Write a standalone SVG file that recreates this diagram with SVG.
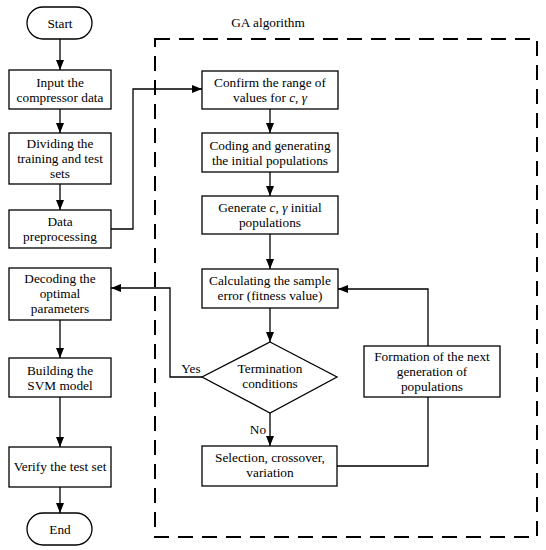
<svg xmlns="http://www.w3.org/2000/svg" width="546" height="550" viewBox="0 0 546 550" font-family="'Liberation Serif', 'Times New Roman', 'DejaVu Serif', serif">
<defs>
<marker id="arr" viewBox="0 0 10 8" refX="10" refY="4" markerWidth="10" markerHeight="8" markerUnits="userSpaceOnUse" orient="auto">
<path d="M0,0 L10,4 L0,8 Z" fill="#000"/>
</marker>
<style>
text{font-family:'Liberation Serif','Times New Roman','DejaVu Serif',serif}
.box{fill:#fff;stroke:#000;stroke-width:1.3}
.t{font-size:13.3px;fill:#000;text-anchor:middle}
.c{fill:none;stroke:#000;stroke-width:1.3}
.a{marker-end:url(#arr)}
.i{font-style:italic}
</style>
</defs>
<rect width="546" height="550" fill="#fff"/>
<g id="ga-frame">
<rect x="155" y="39" width="382" height="498" fill="none" stroke="#000" stroke-width="2" stroke-dasharray="15,9"/>
<text class="t" x="268" y="27">GA algorithm</text>
</g>
<g id="connectors">
<path class="c a" d="M60,39 V70"/>
<path class="c a" d="M60,109 V133"/>
<path class="c a" d="M60,184 V210"/>
<path class="c a" d="M111,229 H133 V89 H202"/>
<path class="c a" d="M270,109 V133"/>
<path class="c a" d="M270,172 V196"/>
<path class="c a" d="M270,234 V269"/>
<path class="c a" d="M270,308 V342"/>
<path class="c a" d="M270,413 V446"/>
<path class="c a" d="M202,377 H170 V288 H111"/>
<path class="c" d="M337,466 H428 V397"/>
<path class="c a" d="M428,346 V289 H338"/>
<path class="c a" d="M60,320 V358"/>
<path class="c a" d="M60,397 V447"/>
<path class="c a" d="M60,487 V513"/>
<text class="t" x="191" y="373">Yes</text>
<text class="t" x="258" y="434">No</text>
</g>
<g id="start">
<rect class="box" x="27" y="7" width="65" height="32" rx="16"/>
<text class="t" x="60" y="28">Start</text>
</g>
<g id="input">
<rect class="box" x="9" y="70" width="102" height="39"/>
<text class="t" x="60" y="87">Input the</text>
<text class="t" x="60" y="102">compressor data</text>
</g>
<g id="dividing">
<rect class="box" x="9" y="133" width="102" height="51"/>
<text class="t" x="60" y="148">Dividing the</text>
<text class="t" x="60" y="163">training and test</text>
<text class="t" x="60" y="178">sets</text>
</g>
<g id="preprocessing">
<rect class="box" x="9" y="210" width="102" height="38"/>
<text class="t" x="60" y="226">Data</text>
<text class="t" x="60" y="241">preprocessing</text>
</g>
<g id="decoding">
<rect class="box" x="9" y="268" width="102" height="52"/>
<text class="t" x="60" y="283">Decoding the</text>
<text class="t" x="60" y="298">optimal</text>
<text class="t" x="60" y="313">parameters</text>
</g>
<g id="building">
<rect class="box" x="9" y="358" width="102" height="39"/>
<text class="t" x="60" y="375">Building the</text>
<text class="t" x="60" y="390">SVM model</text>
</g>
<g id="verify">
<rect class="box" x="9" y="447" width="102" height="40"/>
<text class="t" x="60" y="471">Verify the test set</text>
</g>
<g id="end">
<rect class="box" x="27" y="513" width="65" height="32" rx="16"/>
<text class="t" x="60" y="534">End</text>
</g>
<g id="confirm">
<rect class="box" x="202" y="71" width="136" height="38"/>
<text class="t" x="270" y="87">Confirm the range of</text>
<text class="t" x="270" y="102">values for <tspan class="i">c</tspan>, <tspan class="i">γ</tspan></text>
</g>
<g id="coding">
<rect class="box" x="202" y="133" width="136" height="39"/>
<text class="t" x="270" y="150">Coding and generating</text>
<text class="t" x="270" y="165">the initial populations</text>
</g>
<g id="generate">
<rect class="box" x="202" y="196" width="136" height="38"/>
<text class="t" x="270" y="212">Generate <tspan class="i">c</tspan>, <tspan class="i">γ</tspan>  initial</text>
<text class="t" x="270" y="227">populations</text>
</g>
<g id="calculating">
<rect class="box" x="202" y="269" width="136" height="39"/>
<text class="t" x="270" y="285">Calculating the sample</text>
<text class="t" x="270" y="300">error (fitness value)</text>
</g>
<g id="termination">
<path class="box" d="M270,342 L337,377 L270,413 L202,377 Z"/>
<text class="t" x="270" y="373">Termination</text>
<text class="t" x="270" y="388">conditions</text>
</g>
<g id="selection">
<rect class="box" x="202" y="446" width="135" height="40"/>
<text class="t" x="270" y="462">Selection, crossover,</text>
<text class="t" x="270" y="477">variation</text>
</g>
<g id="formation">
<rect class="box" x="364" y="346" width="136" height="51"/>
<text class="t" x="432" y="361">Formation of the next</text>
<text class="t" x="432" y="376">generation of</text>
<text class="t" x="432" y="391">populations</text>
</g>
</svg>
